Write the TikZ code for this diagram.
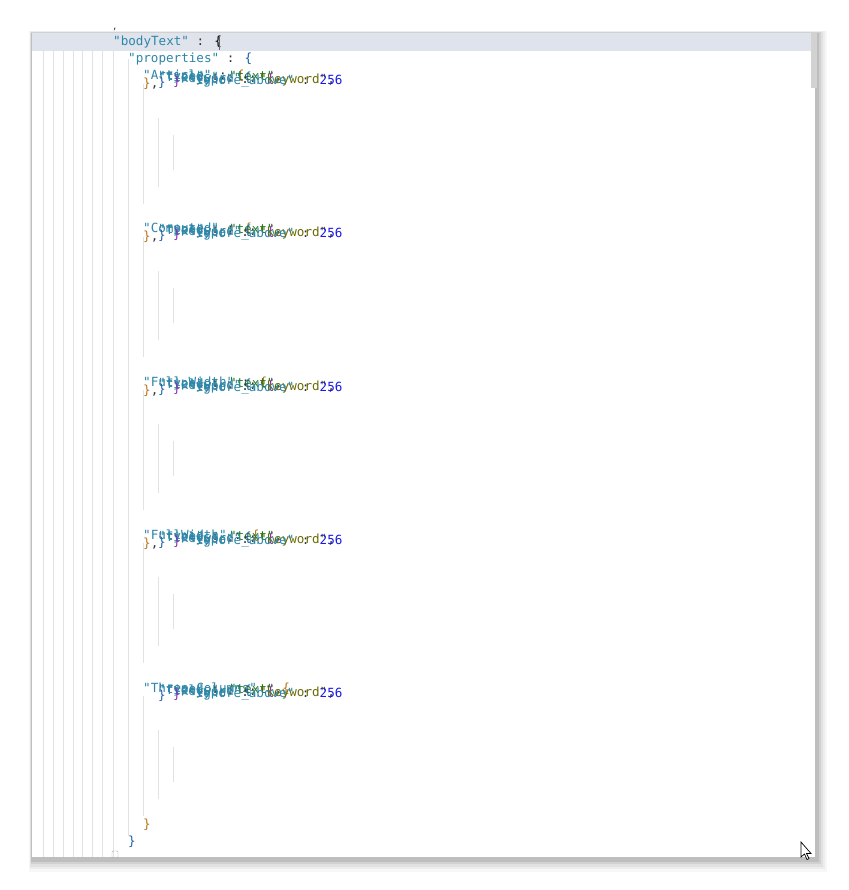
\documentclass[tikz,border=0pt]{standalone}
\usepackage{fontspec}
\newfontfamily\code{DejaVu Sans Mono}
\definecolor{keyc}{HTML}{2E86A8}
\definecolor{strc}{HTML}{217A21}
\definecolor{kwc}{HTML}{6B6B00}
\definecolor{numc}{HTML}{1A1AE6}
\definecolor{pc}{HTML}{333333}
\definecolor{bo}{HTML}{B8741A}
\definecolor{bb}{HTML}{1F5FA8}
\definecolor{bp}{HTML}{8A2BB0}
\definecolor{guide}{HTML}{E2E2E2}
\definecolor{hl}{HTML}{DFE3EC}
\newcommand{\Kq}[1]{\textcolor{keyc}{"#1"}}
\newcommand{\Sq}[1]{\textcolor{strc}{"#1"}}
\newcommand{\Wq}[1]{\textcolor{kwc}{"#1"}}
\newcommand{\Nq}[1]{\textcolor{numc}{#1}}
\newcommand{\Pq}[1]{\textcolor{pc}{#1}}
\tikzset{codeline/.style={anchor=base west,inner sep=0pt,font=\code\fontsize{12.6}{15}\selectfont},
 gl/.style={draw=guide,line width=0.8pt}}
\begin{document}
\begin{tikzpicture}[x=1pt,y=-1pt]
\useasboundingbox (0,0) rectangle (848,890);
% shadow
\foreach \i/\o in {10/0.03,8/0.04,6/0.05,4/0.07,2/0.09}{
 \fill[black,opacity=\o] (32-\i*0.3,33-\i*0.2) rectangle (817+\i,859+\i*1.3);}
\fill[white] (32,33) rectangle (815,857);
\fill[hl] (32,33) rectangle (811,51);
\fill[gray!35] (811,33) rectangle (817,88);
% gutter guides
\foreach \x in {43,53,63,73,82,92,102}{\draw[gl] (\x,51) -- (\x,857);}
\draw[gl] (113,51) -- (113,857);
\draw[gl] (128,59) -- (128,836);
\foreach \s in {2,11,20,29,38}{
 \draw[gl] (143,42+17*\s+8) -- (143,42+17*\s+8*17-8);
 \draw[gl] (158,42+17*\s+2*17+8) -- (158,42+17*\s+7*17-8);
 \draw[gl] (173,42+17*\s+3*17+8) -- (173,42+17*\s+6*17-8);}
% text lines
\newcommand{\cl}[3]{\node[codeline] at (113+15*#2,46+17*#1) {#3};}
\cl{0}{0}{\Kq{bodyText} \Pq{:} \textcolor{black}{\{}}
\draw[black!60] (219.5,35) -- (219.5,50);
\cl{1}{1}{\Kq{properties} \Pq{:} \textcolor{bb}{\{}}
\foreach \s/\name in {2/Article,11/Computed,20/Full Width,29/FullWidth,38/Three Columns}{
 \cl{\s}{2}{\Kq{\name} \Pq{:} \textcolor{bo}{\{}}
 \cl{\s+1}{3}{\Kq{type} \Pq{:} \Sq{text}\Pq{,}}
 \cl{\s+2}{3}{\Kq{fields} \Pq{:} \textcolor{bb}{\{}}
 \cl{\s+3}{4}{\Kq{keyword} \Pq{:} \textcolor{bp}{\{}}
 \cl{\s+4}{5}{\Kq{type} \Pq{:} \Wq{keyword}\Pq{,}}
 \cl{\s+5}{5}{\Kq{ignore\_above} \Pq{:} \Nq{256}}
 \cl{\s+6}{4}{\textcolor{bp}{\}}}
 \cl{\s+7}{3}{\textcolor{bb}{\}}}
}
\foreach \s in {2,11,20,29}{\cl{\s+8}{2}{\textcolor{bo}{\}}\Pq{,}}}
\cl{46}{2}{\textcolor{bo}{\}}}
\cl{47}{1}{\textcolor{bb}{\}}}
\draw[gray!60,rounded corners=1pt] (112,851) rectangle (118,858);
\node[codeline,font=\code\fontsize{9}{9}\selectfont] at (112,30) {\Pq{,}};
% mouse cursor
\filldraw[fill=white,draw=black,line width=0.7pt] (801,842) -- (801,857) -- (804.5,854) -- (807,859.5) -- (809,858.5) -- (806.5,853.5) -- (811,853.5) -- cycle;
\end{tikzpicture}
\end{document}
